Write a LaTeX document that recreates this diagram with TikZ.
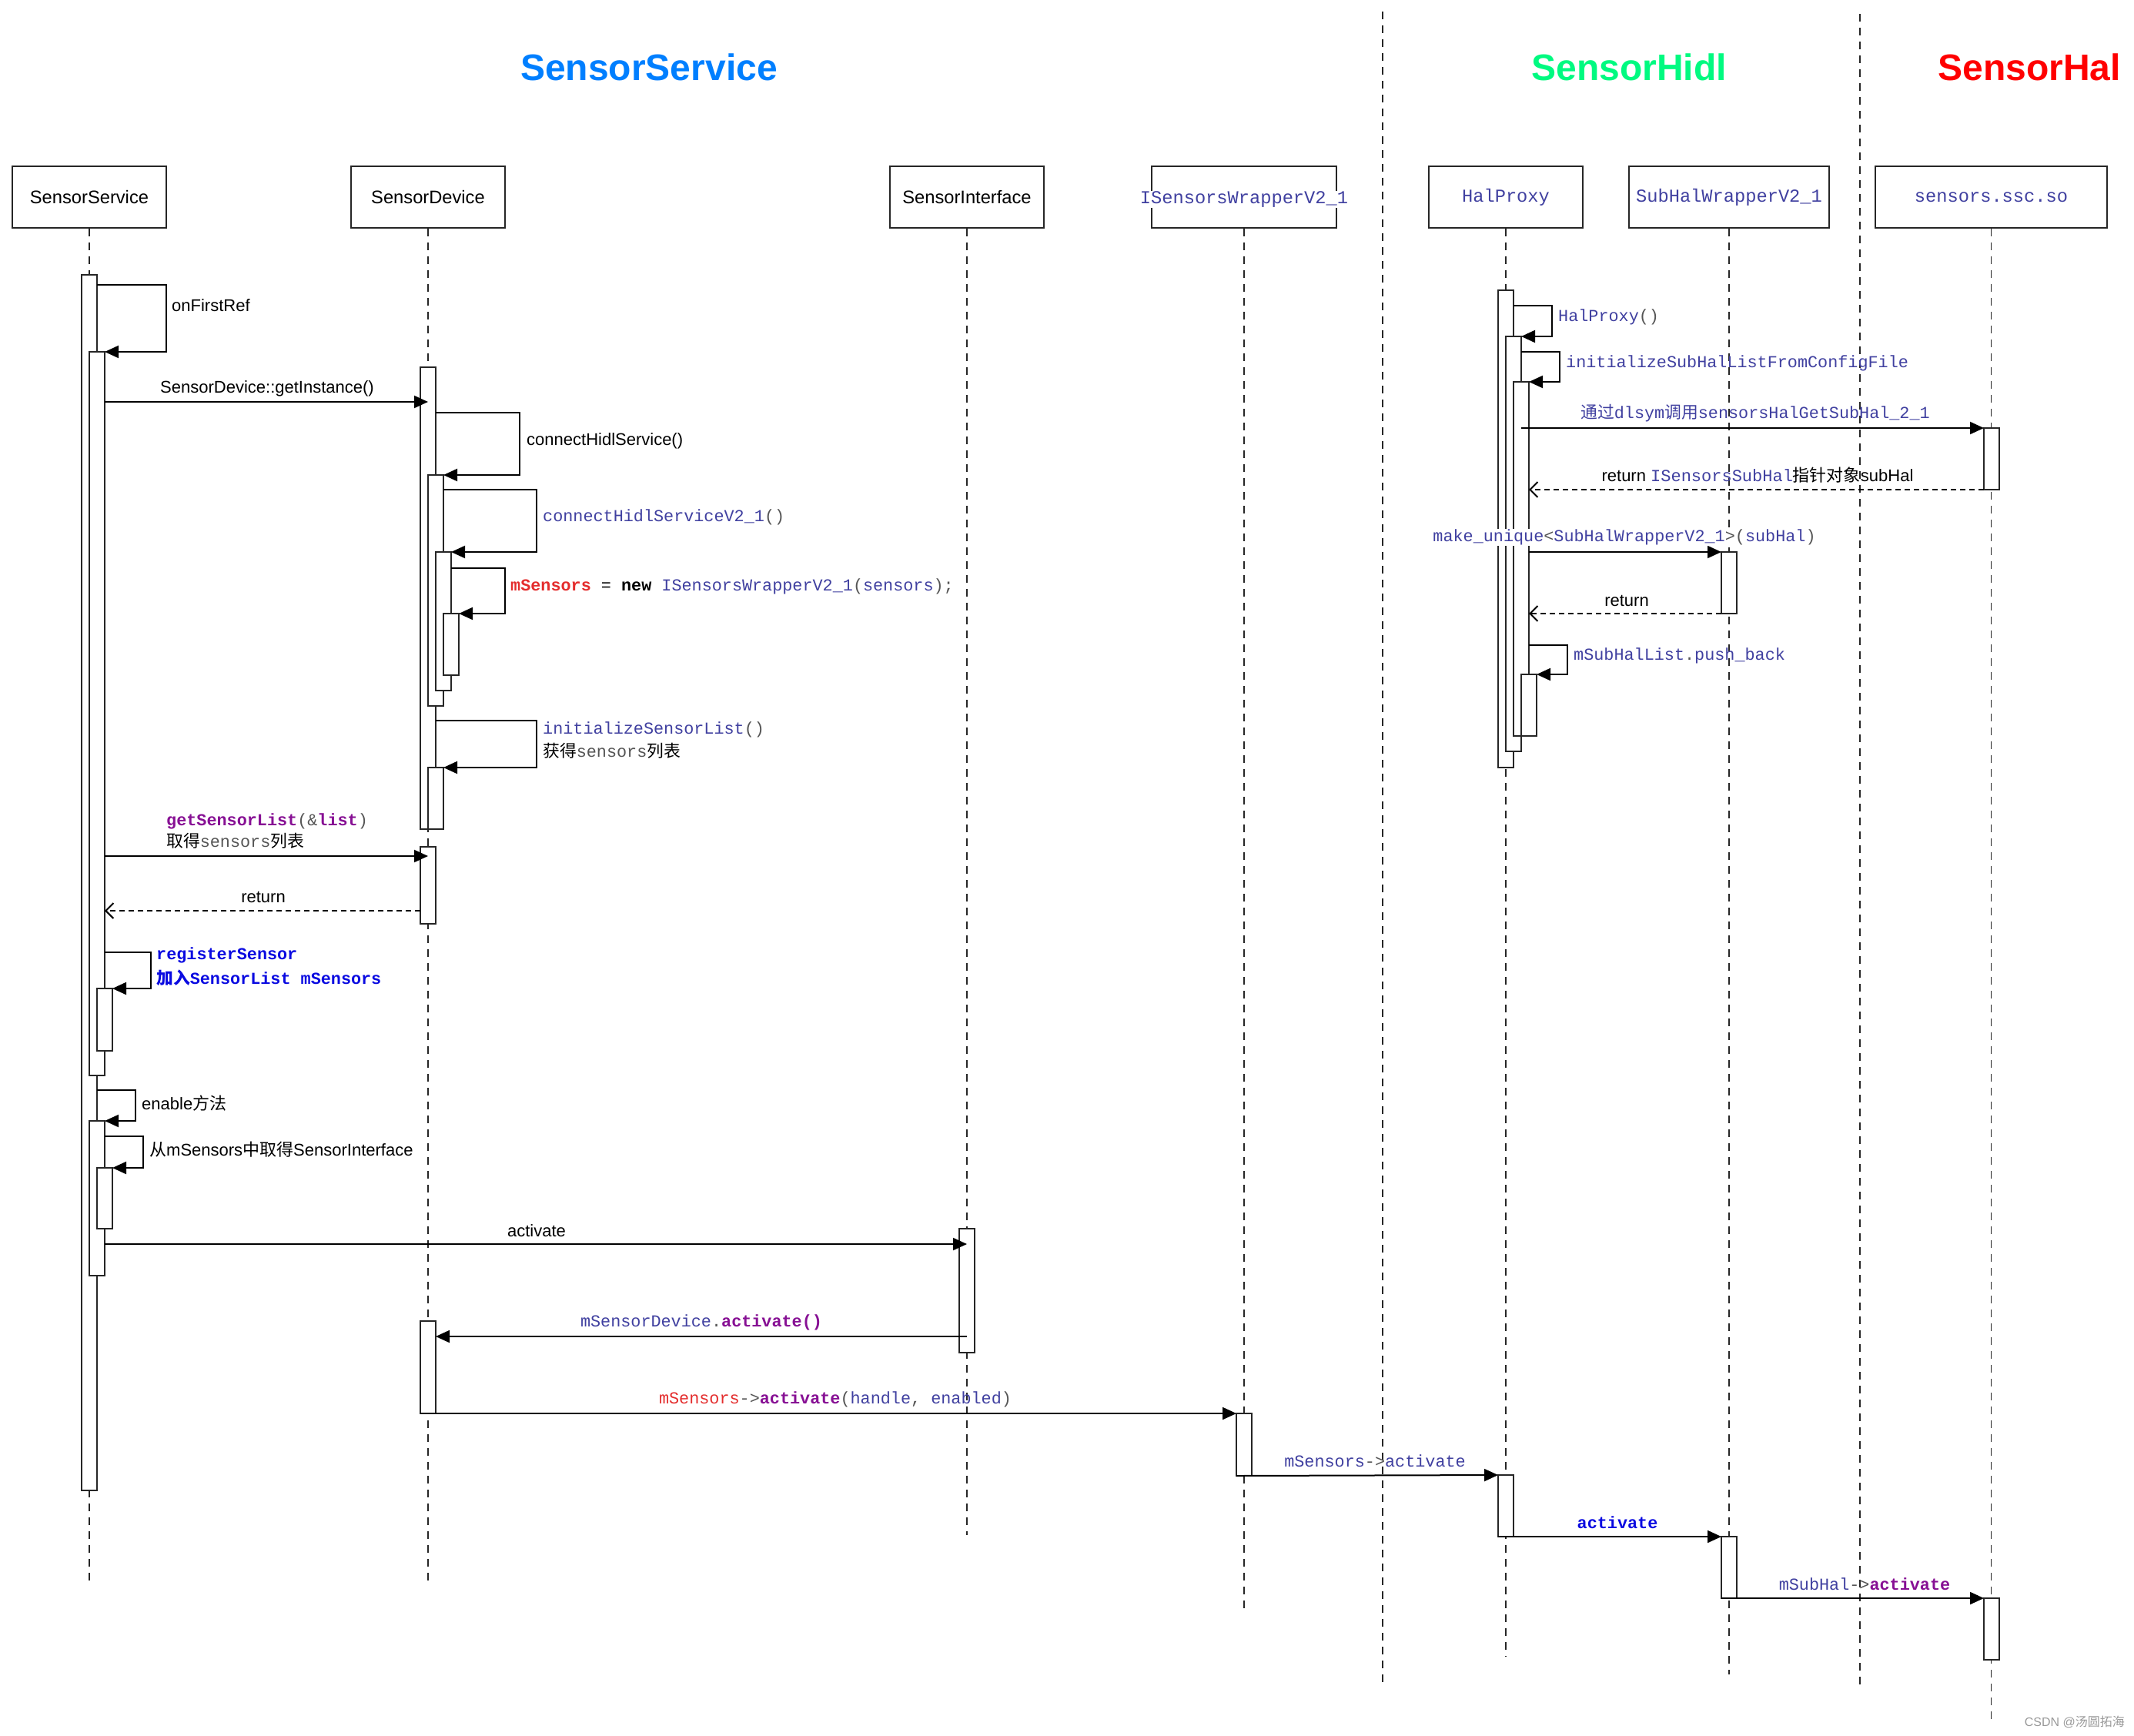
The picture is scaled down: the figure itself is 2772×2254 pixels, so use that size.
\documentclass[tikz,border=0pt]{standalone}
\usepackage{fontspec}
\setmainfont{Liberation Sans}
\newfontfamily\mono{Liberation Mono}
\newfontfamily\cjk{Noto Sans CJK SC}
\usetikzlibrary{arrows.meta}
\definecolor{cid}{RGB}{64,64,160}
\definecolor{cpun}{RGB}{85,85,85}
\definecolor{cpur}{RGB}{135,16,148}
\definecolor{cred}{RGB}{228,45,45}
\definecolor{cblue}{RGB}{10,10,225}
\definecolor{ctA}{RGB}{0,127,255}
\definecolor{ctB}{RGB}{0,250,128}
\definecolor{ctC}{RGB}{255,0,0}
\tikzset{
  lifeline/.style={draw=black!85, line width=1.6pt, dash pattern=on 10pt off 8pt},
  objbox/.style={draw=black!85, line width=2.5pt, fill=white, minimum height=80pt, inner sep=0pt, font=\fontsize{23.7}{26}\selectfont},
  monobox/.style={objbox, text=cid, font=\mono\fontsize{23.7}{26}\selectfont},
  actbar/.style={draw=black!85, line width=2pt, fill=white, minimum width=20pt, inner sep=0pt, outer sep=0pt},
  msg/.style={draw=black, line width=2pt, -{Triangle[length=18pt,width=16pt]}},
  ret/.style={draw=black, line width=2pt, dash pattern=on 7pt off 5pt, -{Straight Barb[length=10pt,width=20pt,line width=2pt]}},
  ttl/.style={inner sep=0pt, font=\bfseries\fontsize{48}{56}\selectfont},
  lbl/.style={inner sep=0pt, font=\fontsize{22}{26}\selectfont},
  mlbl/.style={inner sep=0pt, font=\mono\fontsize{21.8}{26}\selectfont},
  mblbl/.style={inner sep=0pt, font=\mono\bfseries\fontsize{21.8}{26}\selectfont},
}
\begin{document}
\begin{tikzpicture}[x=1pt,y=-1pt]
\fill[white] (0,0) rectangle (2772,2254);
\useasboundingbox (0,0) rectangle (2772,2254);

% titles
\node[ttl, text=ctA] (tSS) at (843,87) {SensorService};
\node[ttl, text=ctB] (tSH) at (2116,87) {SensorHidl};
\node[ttl, text=ctC] (tSA) at (2636,87) {SensorHal};

% separators
\coordinate (s1t) at (1796,15); \coordinate (s1b) at (1796,2192);
\coordinate (s2t) at (2416,18); \coordinate (s2b) at (2416,2192);
\draw[lifeline] (s1t) -- (s1b);
\draw[lifeline] (s2t) -- (s2b);

% object boxes
\node[objbox, minimum width=200pt] (bSS) at (116,256) {SensorService};
\node[objbox, minimum width=200pt] (bSD) at (556,256) {SensorDevice};
\node[objbox, minimum width=200pt] (bSI) at (1256,256) {SensorInterface};
\node[objbox, minimum width=240pt] (bIS) at (1616,256) {};
\node[monobox, minimum width=200pt] (bHP) at (1956,256) {HalProxy};
\node[monobox, minimum width=260pt] (bSH) at (2246,256) {SubHalWrapperV2\_1};
\node[monobox, minimum width=301pt] (bSO) at (2586.5,256) {sensors.ssc.so};
\node[fill=white, inner sep=1pt, text=cid, font=\mono\fontsize{23.7}{26}\selectfont] (tIS) at (1616,259) {ISensorsWrapperV2\_1};

% lifelines
\draw[lifeline] (bSS.south) -- (bSS.south |- 0,2054);
\draw[lifeline] (bSD.south) -- (bSD.south |- 0,2054);
\draw[lifeline] (bSI.south) -- (bSI.south |- 0,1994);
\draw[lifeline] (bIS.south) -- (bIS.south |- 0,2092);
\draw[lifeline] (bHP.south) -- (bHP.south |- 0,2152);
\draw[lifeline] (bSH.south) -- (bSH.south |- 0,2175);
\draw[lifeline] (bSO.south) -- (bSO.south |- 0,2235);

% activation bars
\node[actbar, minimum height=1579pt] (A1) at (116,1146.5) {};
\node[actbar, minimum height=940pt] (A2) at (126,927) {};
\node[actbar, minimum height=81pt] (A3) at (136,1324.5) {};
\node[actbar, minimum height=201pt] (A4) at (126,1556.5) {};
\node[actbar, minimum height=79pt] (A5) at (136,1556.5) {};
\node[actbar, minimum height=600pt] (B1) at (556,777) {};
\node[actbar, minimum height=300pt] (B2) at (566,767) {};
\node[actbar, minimum height=180pt] (B3) at (576,807) {};
\node[actbar, minimum height=80pt] (B4) at (586,837) {};
\node[actbar, minimum height=80pt] (B5) at (566,1037) {};
\node[actbar, minimum height=100pt] (B6) at (556,1150) {};
\node[actbar, minimum height=120pt] (B7) at (556,1776) {};
\node[actbar, minimum height=161pt] (C1) at (1256,1676.5) {};
\node[actbar, minimum height=81pt] (D1) at (1616,1876.5) {};
\node[actbar, minimum height=620pt] (H1) at (1956,687) {};
\node[actbar, minimum height=539pt] (H2) at (1966,706.5) {};
\node[actbar, minimum height=460pt] (H3) at (1976,726) {};
\node[actbar, minimum height=80pt] (H4) at (1986,916) {};
\node[actbar, minimum height=80pt] (E1) at (1956,1956) {};
\node[actbar, minimum height=80pt] (J1) at (2246,757) {};
\node[actbar, minimum height=80pt] (F1) at (2246,2036) {};
\node[actbar, minimum height=80pt] (I1) at (2587,596) {};
\node[actbar, minimum height=80pt] (G1) at (2587,2116) {};

% self calls
\draw[msg] (A1.east |- 0,370) -- (216,370) -- (216,457) -- (A2.east |- 0,457);
\draw[msg] (B1.east |- 0,536) -- (675,536) -- (675,617) -- (B2.east |- 0,617);
\draw[msg] (B2.east |- 0,636) -- (697,636) -- (697,717) -- (B3.east |- 0,717);
\draw[msg] (B3.east |- 0,738) -- (656,738) -- (656,797) -- (B4.east |- 0,797);
\draw[msg] (B1.east |- 0,936) -- (697,936) -- (697,997) -- (B5.east |- 0,997);
\draw[msg] (A2.east |- 0,1237) -- (196,1237) -- (196,1284) -- (A3.east |- 0,1284);
\draw[msg] (A1.east |- 0,1416) -- (176,1416) -- (176,1456) -- (A4.east |- 0,1456);
\draw[msg] (A4.east |- 0,1476) -- (186,1476) -- (186,1517) -- (A5.east |- 0,1517);
\draw[msg] (H1.east |- 0,397) -- (2016,397) -- (2016,437) -- (H2.east |- 0,437);
\draw[msg] (H2.east |- 0,457) -- (2026,457) -- (2026,496) -- (H3.east |- 0,496);
\draw[msg] (H3.east |- 0,838) -- (2036,838) -- (2036,876) -- (H4.east |- 0,876);

% messages
\draw[msg] (A2.east |- 0,522) -- (B1.center |- 0,522);
\draw[msg] (A2.east |- 0,1112) -- (B6.center |- 0,1112);
\draw[ret] (B6.west |- 0,1183) -- (A2.east |- 0,1183);
\draw[msg] (A4.east |- 0,1616) -- (C1.center |- 0,1616);
\draw[msg] (C1.center |- 0,1736) -- (B7.east |- 0,1736);
\draw[msg] (B7.south west) -- (D1.north west);
\draw[msg] (D1.south west) -- (E1.north west);
\draw[msg] (E1.south west) -- (F1.north west);
\draw[msg] (F1.south west) -- (G1.north west);
\draw[msg] (H3.center |- I1.north) -- (I1.north west);
\draw[ret] (I1.south west) -- (H3.east |- I1.south);
\draw[msg] (H3.east |- J1.north) -- (J1.north west);
\draw[ret] (J1.south west) -- (H3.east |- J1.south);

% labels, SensorService side
\node[lbl, anchor=west] (lOFR) at (223,397) {onFirstRef};
\node[lbl] (lGI) at (347,505) {SensorDevice::getInstance()};
\node[lbl, anchor=west] (lCHS) at (684,573) {connectHidlService()};
\node[mlbl, anchor=west] (lCHS2) at (705,672) {{\color{cid}connectHidlServiceV2\_1}{\color{cpun}()}};
\node[mlbl, anchor=west] (lNEW) at (663,762) {{\bfseries\color{cred}mSensors} = {\bfseries new} {\color{cid}ISensorsWrapperV2\_1}{\color{cpun}(}{\color{cid}sensors}{\color{cpun});}};
\node[mlbl, anchor=west] (lISL) at (705,948) {{\color{cid}initializeSensorList}{\color{cpun}()}};
\node[mlbl, anchor=west] (lISL2) at (705,975) {{\cjk 获得}{\color{cpun}sensors}{\cjk 列表}};
\node[mlbl, anchor=west] (lGSL) at (216,1067) {{\bfseries\color{cpur}getSensorList}{\color{cpun}(\&}{\bfseries\color{cpur}list}{\color{cpun})}};
\node[mlbl, anchor=west] (lGSL2) at (216,1092) {{\cjk 取得}{\color{cpun}sensors}{\cjk 列表}};
\node[lbl] (lRET1) at (342,1165) {return};
\node[mblbl, anchor=west, text=cblue] (lREG) at (203,1241) {registerSensor};
\node[mblbl, anchor=west, text=cblue] (lREG2) at (203,1270) {{\cjk\bfseries 加入}SensorList mSensors};
\node[lbl, anchor=west] (lEN) at (184,1433) {enable{\cjk 方法}};
\node[lbl, anchor=west] (lFROM) at (194,1493) {{\cjk 从}mSensors{\cjk 中取得}SensorInterface};
\node[lbl] (lACT) at (697,1599) {activate};
\node[mlbl] (lMSD) at (911,1718) {{\color{cid}mSensorDevice}{\color{cpun}.}{\bfseries\color{cpur}activate()}};
\node[mlbl] (lMSA) at (1085,1818) {{\color{cred}mSensors}{\color{cpun}->}{\bfseries\color{cpur}activate}{\color{cpun}(}{\color{cid}handle}{\color{cpun}, }{\color{cid}enabled}{\color{cpun})}};
\node[mlbl] (lMSA2) at (1786,1898) {{\color{cid}mSensors}{\color{cpun}->}{\color{cid}activate}};
\node[mblbl, text=cblue] (lACT2) at (2101,1978) {activate};
\node[mlbl] (lSUB) at (2422,2058) {{\color{cid}mSubHal}{\color{cpun}->}{\bfseries\color{cpur}activate}};

% labels, HAL side
\node[mlbl, anchor=west] (lHP) at (2024,412) {{\color{cid}HalProxy}{\color{cpun}()}};
\node[mlbl, anchor=west, text=cid] (lINIT) at (2034,472) {initializeSubHalListFromConfigFile};
\node[mlbl, text=cid] (lDL) at (2280,537) {{\cjk 通过}dlsym{\cjk 调用}sensorsHalGetSubHal\_2\_1};
\node[lbl] (lRET2) at (2283,617) {return {\mono\color{cid}ISensorsSubHal}{\cjk 指针对象}subHal};
\node[mlbl, fill=white, inner sep=1pt] (lMU) at (2110,698) {{\color{cid}make\_unique}{\color{cpun}<}{\color{cid}SubHalWrapperV2\_1}{\color{cpun}>(}{\color{cid}subHal}{\color{cpun})}};
\node[lbl] (lRET3) at (2113,780) {return};
\node[mlbl, anchor=west] (lPB) at (2044,852) {{\color{cid}mSubHalList}{\color{cpun}.}{\color{cid}push\_back}};

% watermark
\node[lbl, anchor=east, text=black!40, font=\fontsize{16}{18}\selectfont] (wm) at (2760,2237) {CSDN @{\cjk 汤圆拓海}};
\end{tikzpicture}
\end{document}
